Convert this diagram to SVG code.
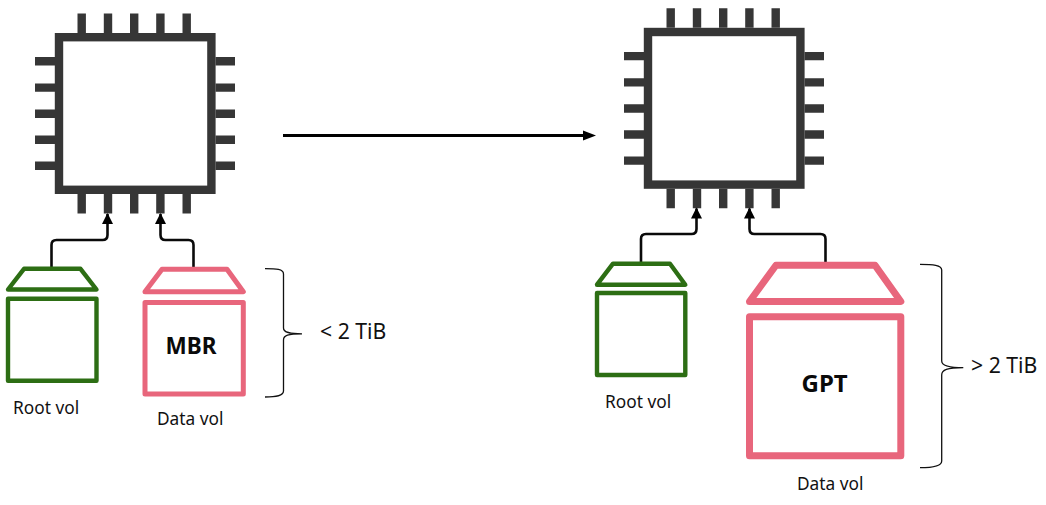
<svg xmlns="http://www.w3.org/2000/svg" width="1046" height="505" viewBox="0 0 1046 505">
<style>
.frame{fill:none;stroke:#363636;stroke-width:8.4}
.pins{fill:none;stroke:#363636;stroke-width:8.4}
.green{fill:none;stroke:#2d6e14;stroke-width:4.4;stroke-linejoin:round}
.pink{fill:none;stroke:#e8667c;stroke-linejoin:round}
.conn{fill:none;stroke:#0a0a0a;stroke-width:2.6;stroke-linejoin:round}
.brace{fill:none;stroke:#111;stroke-width:1.3}
text{font-family:"Noto Sans","Open Sans","Liberation Sans",sans-serif;fill:#111}
.lab{font-size:17.3px}
.big{font-size:21.2px}
.bold{font-size:22.5px;font-weight:700;fill:#0a0a0a}
</style>
<defs>
<marker id="ah" markerUnits="userSpaceOnUse" markerWidth="12" markerHeight="12" refX="10" refY="6" orient="auto"><path d="M0,0.5 L11,6 L0,11.5 Z" fill="#000"/></marker>
<g id="chip">
<rect class="frame" x="59" y="37.2" width="152.4" height="152.6"/>
<path class="pins" d="M81.7,13.5V33M108,13.5V33M134.2,13.5V33M160.4,13.5V33M186.7,13.5V33M81.7,194V213.5M108,194V213.5M134.2,194V213.5M160.4,194V213.5M186.7,194V213.5M35,61.3H55M35,87.6H55M35,113.7H55M35,139.7H55M35,165.8H55M215.5,61.3H235M215.5,87.6H235M215.5,113.7H235M215.5,139.7H235M215.5,165.8H235"/>
</g>
</defs>
<g id="chip-left"><use href="#chip"/></g>
<g id="chip-right"><use href="#chip" x="589" y="-5.2"/></g>
<g id="connectors">
<path class="conn" marker-end="url(#ah)" d="M51.5,267V245Q51.5,240 56.500,240H102.500Q107.500,240 107.500,235V214"/>
<path class="conn" marker-end="url(#ah)" d="M193.500,267V245Q193.500,240 188.500,240H165.500Q160.500,240 160.500,235V214"/>
<path class="conn" marker-end="url(#ah)" d="M641,262V239Q641,234 646,234H691.500Q696.500,234 696.500,229V208.500"/>
<path class="conn" marker-end="url(#ah)" d="M825.500,262V239Q825.500,234 820.500,234H754.500Q749.500,234 749.500,229V208.500"/>
<path fill="none" stroke="#000" stroke-width="3.2" d="M283,135.500H586"/>
<path fill="#000" d="M583,130.500L596,135.500L583,140.500Z"/>
</g>
<g id="root-vol-left">
<path class="green" d="M8,289.500L24,268.800H80.500L96.500,289.500Z"/>
<rect class="green" x="8" y="298.800" width="88.500" height="82"/>
<text class="lab" x="13" y="414">Root vol</text>
</g>
<g id="data-vol-left">
<path class="pink" stroke-width="5" d="M145,291.700L162,269.300H227L243.300,291.700Z"/>
<rect class="pink" stroke-width="5" x="145" y="302.500" width="98.300" height="91.500"/>
<text class="bold" x="165.500" y="354">MBR</text>
<text class="lab" x="157" y="425">Data vol</text>
</g>
<g id="brace-left">
<path class="brace" d="M265,268.700C276,268.700 283.500,269 283.500,274V328C283.500,332 288,333.800 302,333.800C288,333.800 283.500,335.500 283.500,340V391C283.500,396 276,397 265,397"/>
<text class="big" x="320" y="339">&lt; 2 TiB</text>
</g>
<g id="root-vol-right">
<path class="green" d="M597,284.700L613,263.700H670L685.300,284.700Z"/>
<rect class="green" x="597" y="293" width="88.300" height="82"/>
<text class="lab" x="605" y="408">Root vol</text>
</g>
<g id="data-vol-right">
<path class="pink" stroke-width="7" d="M749.500,301.500L776,265.300H875L900.800,301.500Z"/>
<rect class="pink" stroke-width="7" x="749.500" y="316.800" width="151.300" height="139"/>
<text class="bold" style="font-size:24px" x="801.500" y="392">GPT</text>
<text class="lab" x="797" y="490">Data vol</text>
</g>
<g id="brace-right">
<path class="brace" d="M920,264.300C933,264.300 941.700,265 941.700,270V361C941.700,365 947,367.700 963.300,367.700C947,367.700 941.700,370 941.700,375V461C941.700,466 933,467.700 920,467.700"/>
<text class="big" x="971" y="373">&gt; 2 TiB</text>
</g>
</svg>
